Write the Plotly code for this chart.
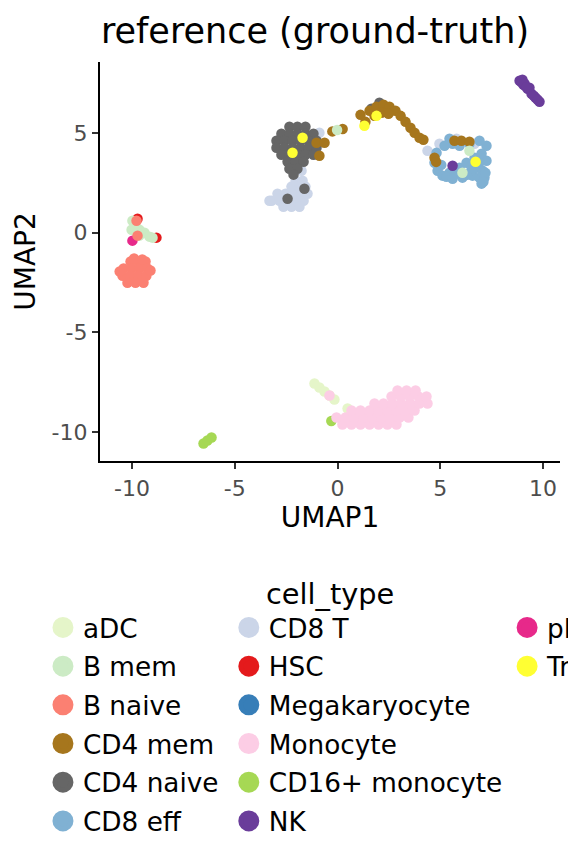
import plotly.graph_objects as go

# cell types in legend order, with their colours
cell_types = ["aDC", "B mem", "B naive", "CD4 mem", "CD4 naive", "CD8 eff", "CD8 T",
              "HSC", "Megakaryocyte", "Monocyte", "CD16+ monocyte", "NK",
              "plasmablast", "Treg"]
colors = ["#E5F5C9", "#CCEBC5", "#FB8072", "#A6761D", "#666666", "#80B1D3", "#CBD5E8",
          "#E41A1C", "#377EB8", "#FCCDE5", "#A6D854", "#6A3D9A",
          "#E7298A", "#FFFF33"]

# UMAP coordinates, per cell type
adc_x = [-1.12, -0.88, -0.63, -0.39, -0.15, 0.49]
adc_y = [-7.57, -7.77, -7.97, -8.17, -8.37, -8.82]

bmem_x = [-9.98, -9.83, -10.02, -9.64, -9.39, -9.15, -9.00, -9.64, -0.02, 6.08, 6.42]
bmem_y = [0.60, 0.35, 0.15, 0.15, 0.00, -0.20, -0.25, -0.15, 5.15, 3.01, 4.11]

bnaive_x = [-9.78, -9.73,
            -10.07, -9.68, -9.34,
            -10.41, -10.02, -9.64, -9.25,
            -10.46, -10.07, -9.68, -9.30,
            -10.22, -9.83, -9.44,
            -10.60, -9.10, -9.90, -9.50]
bnaive_y = [0.60, -0.15,
            -1.45, -1.45, -1.45,
            -1.80, -1.80, -1.80, -1.80,
            -2.16, -2.16, -2.16, -2.16,
            -2.51, -2.51, -2.51,
            -1.95, -1.90, -1.30, -1.35]

cd4mem_x = [1.12, 1.36, 1.56, 1.90, 2.24, 2.53, 2.82, 3.07, 3.31, 3.55, 3.75, 3.99, 4.18,
            1.80, 2.14, 2.48,
            -1.02, -0.63, -0.25, 0.25, -0.88,
            4.72, 4.80, 5.69, 6.03, 6.42]
cd4mem_y = [5.91, 5.56, 6.12, 6.32, 6.42, 6.32, 6.12, 5.86, 5.56, 5.26, 5.01, 4.76, 4.66,
            5.86, 6.02, 5.96,
            4.51, 4.51, 5.08, 5.20, 3.86,
            3.76, 3.55, 4.61, 4.61, 4.56]

cd4naive_x = [-2.34, -1.95, -1.56,
              -2.73, -2.34, -1.95, -1.56, -1.17,
              -2.97, -2.58, -2.19, -1.80, -1.41, -1.02,
              -2.97, -2.58, -2.19, -1.80, -1.41, -1.02,
              -2.73, -2.34, -1.95, -1.56, -1.17,
              -2.43, -2.04, -1.65,
              -2.34, -1.95,
              -2.14,
              -2.43, -1.61,
              1.65, 2.04]
cd4naive_y = [5.31, 5.31, 5.31,
              4.96, 4.96, 4.96, 4.96, 4.96,
              4.61, 4.61, 4.61, 4.61, 4.61, 4.61,
              4.26, 4.26, 4.26, 4.26, 4.26, 4.26,
              3.91, 3.91, 3.91, 3.91, 3.91,
              3.56, 3.56, 3.56,
              3.21, 3.21,
              2.91,
              1.70, 2.20,
              6.22, 6.52]

cd8eff_x = [5.45, 6.91, 7.25, 4.82, 4.72, 4.87, 5.11, 5.45, 5.94, 6.28, 6.67, 7.01,
            6.76, 7.06, 6.91, 7.15, 6.57, 7.01, 7.25, 6.08, 5.79, 5.60, 5.94, 6.42, 5.21,
            6.50, 6.30, 7.20, 6.90, 6.60, 5.30, 5.60, 5.05, 7.10]
cd8eff_y = [4.71, 4.61, 4.36, 4.01, 3.51, 3.11, 2.86, 3.01, 3.26, 3.51, 3.76, 3.96,
            3.26, 3.11, 2.76, 2.76, 2.86, 2.46, 3.61, 2.76, 2.96, 4.46, 4.36, 4.46, 4.36,
            3.10, 2.90, 3.00, 3.50, 3.50, 2.80, 2.70, 3.40, 2.55]

cd8t_x = [-3.21, -2.82, -2.43, -2.04, -1.65,
          -2.92, -2.53, -2.14, -1.75, -1.46,
          -2.24, -1.85, -1.56,
          -2.04, -1.70,
          -2.63, -2.24, -1.85,
          -3.31,
          -2.92, -0.88, -1.75,
          4.38, 4.96, 5.79, 6.67, 6.85]
cd8t_y = [1.60, 1.60, 1.60, 1.60, 1.60,
          1.95, 1.95, 1.95, 1.95, 1.95,
          2.31, 2.31, 2.31,
          2.61, 2.61,
          1.30, 1.30, 1.30,
          1.60,
          4.61, 5.01, 3.11,
          4.11, 4.46, 4.71, 4.46, 2.95]

hsc_x = [-8.81, -9.73]
hsc_y = [-0.25, 0.70]

mega_x = [6.90]
mega_y = [2.80]

mono_x = [0.24, 0.68, 1.12, 1.56, 2.00, 2.43, 2.87,
          -0.05, 0.39, 0.83, 1.27, 1.70, 2.14, 2.58, 3.02, 3.45,
          0.68, 1.12, 1.56, 2.00, 2.43, 2.87, 3.31, 3.75,
          1.80, 2.24, 2.68, 3.11, 3.55, 3.99, 4.38,
          2.63, 3.07, 3.50, 3.94, 4.33,
          2.92, 3.36, 3.80,
          -0.39]
mono_y = [-9.62, -9.62, -9.62, -9.62, -9.62, -9.62, -9.62,
          -9.27, -9.27, -9.27, -9.27, -9.27, -9.27, -9.27, -9.27, -9.27,
          -8.92, -8.92, -8.92, -8.92, -8.92, -8.92, -8.92, -8.92,
          -8.57, -8.57, -8.57, -8.57, -8.57, -8.57, -8.57,
          -8.22, -8.22, -8.22, -8.22, -8.22,
          -7.92, -7.92, -7.92,
          -8.17]

cd16_x = [-6.52, -6.33, -6.13, -0.30]
cd16_y = [-10.58, -10.43, -10.28, -9.45]

nk_x = [8.86, 9.00, 9.05, 9.25, 9.34, 9.44, 9.64, 9.83,
        8.95, 9.15, 9.55, 9.74, 9.10, 9.20, 5.60]
nk_y = [7.62, 7.67, 7.42, 7.22, 7.27, 6.97, 6.77, 6.57,
        7.55, 7.35, 6.87, 6.67, 7.48, 7.30, 3.36]

plasma_x = [-9.98]
plasma_y = [-0.40]

treg_x = [-2.19, -1.70, 1.90, 1.31, 6.72]
treg_y = [4.01, 4.76, 5.86, 5.36, 3.56]

points = {
    "aDC": (adc_x, adc_y), "B mem": (bmem_x, bmem_y), "B naive": (bnaive_x, bnaive_y),
    "CD4 mem": (cd4mem_x, cd4mem_y), "CD4 naive": (cd4naive_x, cd4naive_y),
    "CD8 eff": (cd8eff_x, cd8eff_y), "CD8 T": (cd8t_x, cd8t_y), "HSC": (hsc_x, hsc_y),
    "Megakaryocyte": (mega_x, mega_y), "Monocyte": (mono_x, mono_y),
    "CD16+ monocyte": (cd16_x, cd16_y), "NK": (nk_x, nk_y),
    "plasmablast": (plasma_x, plasma_y), "Treg": (treg_x, treg_y),
}
color_of = dict(zip(cell_types, colors))

# drawing order (later = on top)
draw_order = ["Megakaryocyte", "HSC", "plasmablast", "CD8 T", "CD4 naive", "CD8 eff",
              "CD4 mem", "B mem", "B naive", "aDC", "CD16+ monocyte", "Monocyte",
              "NK", "Treg"]

FONT = "DejaVu Sans"
fig = go.Figure()

for name in draw_order:
    xs, ys = points[name]
    fig.add_trace(go.Scatter(
        x=xs, y=ys, mode="markers", name=name, showlegend=False,
        marker=dict(size=10.5, color=color_of[name], line=dict(width=0)),
        hoverinfo="name",
    ))

# legend entries, filled column by column like ggplot
legend_ids = ["legend", "legend2", "legend3"]
for i, name in enumerate(cell_types):
    fig.add_trace(go.Scatter(
        x=[None], y=[None], mode="markers", name=name, legendgroup=name,
        legend=legend_ids[i // 6],
        marker=dict(size=16, color=color_of[name],
                    line=dict(width=5, color=color_of[name])),
    ))

legend_style = dict(font=dict(family=FONT, size=26.3, color="black"),
                    orientation="v", tracegroupgap=1.5, bgcolor="rgba(0,0,0,0)",
                    xanchor="left", yanchor="top", y=-0.358, itemsizing="trace")

# the page body adds an 8px offset: figure is shrunk by 8px so it fits the window
fig.update_layout(
    width=568, height=856,
    margin=dict(l=92, r=16, t=54, b=403, autoexpand=False),
    paper_bgcolor="white", plot_bgcolor="white",
    font=dict(family=FONT, color="black"),
    title=dict(text="reference (ground-truth)", x=0.5405, xref="container", xanchor="center",
               y=0.9731, yref="container", yanchor="middle",
               font=dict(family=FONT, size=35, color="black")),
    legend=dict(x=-0.124, **legend_style),
    legend2=dict(x=0.280, **legend_style),
    legend3=dict(x=0.885, **legend_style),
    annotations=[dict(text="cell_type", x=0.5, y=-0.333, xref="paper", yref="paper",
                      xanchor="center", yanchor="middle", showarrow=False,
                      font=dict(family=FONT, size=28.8, color="black"))],
)

axis_common = dict(showgrid=False, zeroline=False, showline=True, linecolor="black",
                   linewidth=2.2, ticks="outside", ticklen=6, tickwidth=2.2,
                   tickcolor="#333333", tickfont=dict(family=FONT, size=22, color="#4D4D4D"),
                   mirror=False)
fig.update_xaxes(range=[-11.557, 10.827], tickvals=[-10, -5, 0, 5, 10],
                 ticktext=["-10", "-5", "0", "5", "10"],
                 title=dict(text="UMAP1", font=dict(family=FONT, size=28, color="black"),
                            standoff=8),
                 **axis_common)
fig.update_yaxes(range=[-11.455, 8.562], tickvals=[-10, -5, 0, 5],
                 ticktext=["-10", "-5", "0", "5"],
                 title=dict(text="UMAP2", font=dict(family=FONT, size=28, color="black"),
                            standoff=8),
                 **axis_common)

fig.write_html("out.html")
